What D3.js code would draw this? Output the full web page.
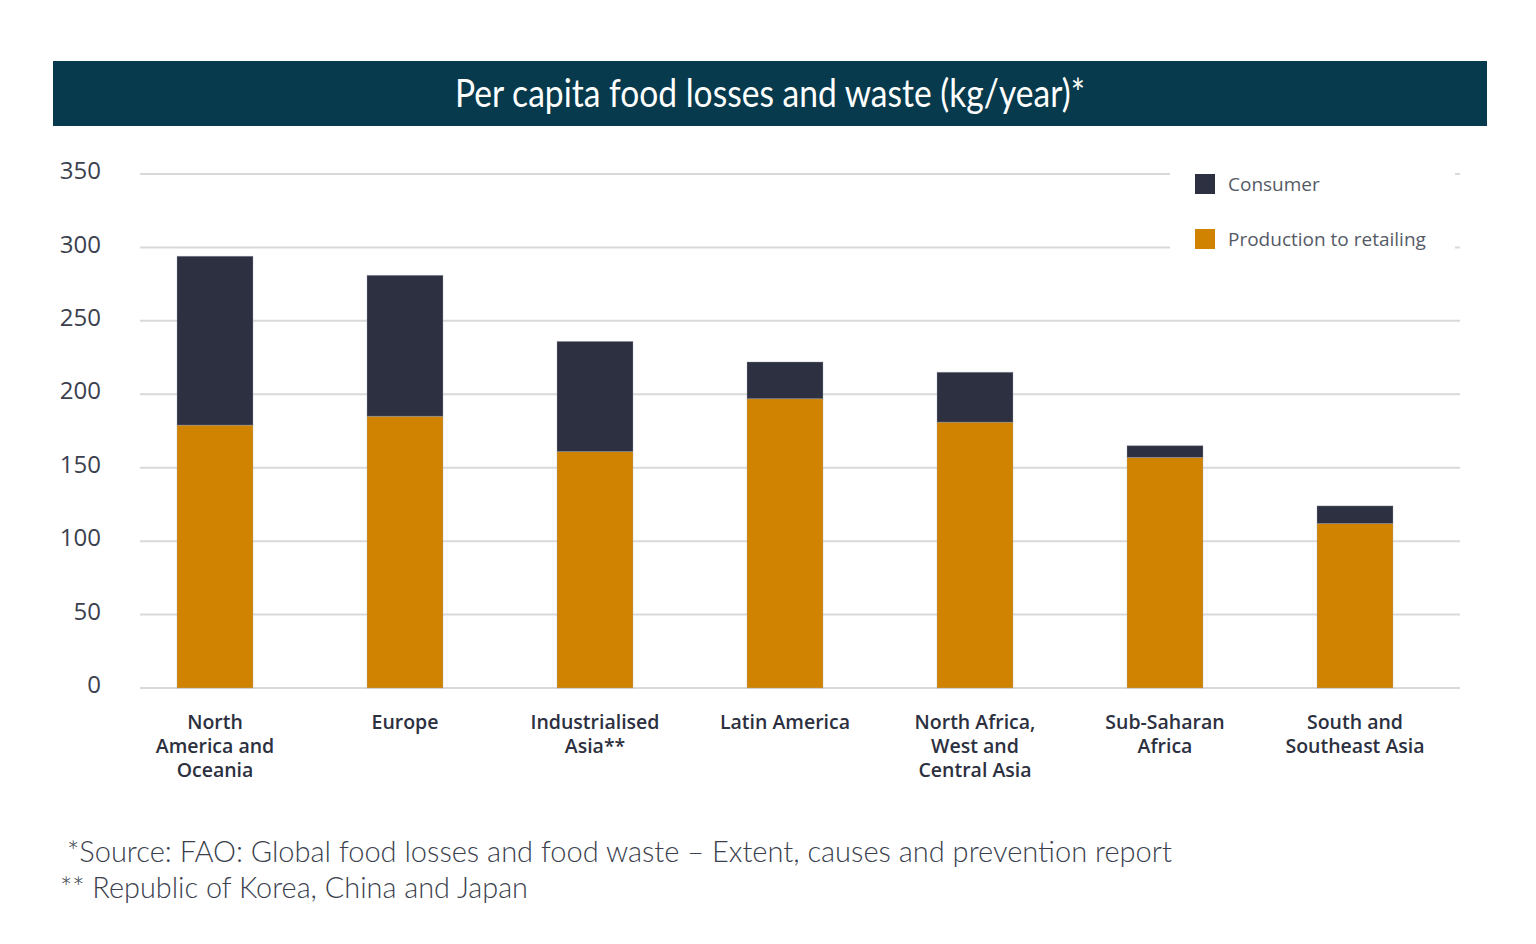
<!DOCTYPE html>
<html>
<head>
<meta charset="utf-8">
<script src="https://cdn.jsdelivr.net/npm/d3@7"></script>
<style>
  html, body { margin: 0; padding: 0; background: #ffffff; }
  svg { display: block; }
</style>
</head>
<body>
<svg id="chart" width="1536" height="944"></svg>
<script>
// ---- Data ----
const categories = [
  "North\nAmerica and\nOceania",
  "Europe",
  "Industrialised\nAsia**",
  "Latin America",
  "North Africa,\nWest and\nCentral Asia",
  "Sub-Saharan\nAfrica",
  "South and\nSoutheast Asia"
];
const productionToRetailing = [179, 185, 161, 197, 181, 157, 112];
const consumer = [115, 96, 75, 25, 34, 8, 12];
const yTicks = [0, 50, 100, 150, 200, 250, 300, 350];
const seriesNames = ["Consumer", "Production to retailing"];
const titleText = "Per capita food losses and waste (kg/year)*";
const footnotes = [
  "*Source: FAO: Global food losses and food waste – Extent, causes and prevention report",
  "** Republic of Korea, China and Japan"
];

// ---- Styles ----
const colConsumer = "#2c3040";
const colProduction = "#d08300";
const colGrid = "#d9d9d9";
const colText = "#2c3040";

const svg = d3.select("#chart");

// Scales
const x = d3.scaleBand().domain(categories).range([120, 1450]).paddingInner(0.6).paddingOuter(0.3);
const y = d3.scaleLinear().domain([0, 350]).range([688, 174]);

// Title banner
svg.append("rect").attr("x", 53).attr("y", 61).attr("width", 1434).attr("height", 65).attr("fill", "#063a4c");
svg.append("text")
  .attr("x", 770).attr("y", 107)
  .attr("text-anchor", "middle")
  .attr("font-family", "Lato, 'Open Sans', sans-serif")
  .attr("font-size", 38)
  .attr("fill", "#ffffff")
  .attr("textLength", 630)
  .attr("lengthAdjust", "spacingAndGlyphs")
  .text(titleText);

// Gridlines
svg.append("g").selectAll("line").data(yTicks).join("line")
  .attr("x1", 140).attr("x2", 1460)
  .attr("y1", d => y(d)).attr("y2", d => y(d))
  .attr("stroke", colGrid).attr("stroke-width", 2);

// Y axis labels via d3 axis
const yAxis = d3.axisLeft(y).tickValues(yTicks).tickSize(0).tickPadding(0);
const gy = svg.append("g").attr("transform", "translate(101,-3)").call(yAxis);
gy.select(".domain").remove();
gy.selectAll("text")
  .attr("font-family", "'Open Sans', sans-serif")
  .attr("font-size", 24)
  .attr("fill", "#3b3f4e");

// Stacked bars
const stackData = categories.map((c, i) => ({ cat: c, prod: productionToRetailing[i], cons: consumer[i] }));
const stack = d3.stack().keys(["prod", "cons"])(stackData);
const colors = { prod: colProduction, cons: colConsumer };
svg.append("g").selectAll("g").data(stack).join("g")
  .attr("fill", d => colors[d.key])
  .selectAll("rect").data(d => d).join("rect")
  .attr("x", d => x(d.data.cat))
  .attr("width", x.bandwidth())
  .attr("y", d => y(d[1]))
  .attr("height", d => y(d[0]) - y(d[1]))
  .attr("stroke", "rgba(160,165,180,0.35)")
  .attr("stroke-width", 1);

// Category labels
const xl = svg.append("g");
categories.forEach(c => {
  const lines = c.split("\n");
  const cx = x(c) + x.bandwidth() / 2;
  const t = xl.append("text")
    .attr("x", cx)
    .attr("y", 729)
    .attr("text-anchor", "middle")
    .attr("font-family", "'Open Sans', sans-serif")
    .attr("font-weight", 600)
    .attr("font-size", 19.5)
    .attr("fill", colText);
  lines.forEach((l, j) => {
    t.append("tspan").attr("x", cx).attr("dy", j === 0 ? 0 : 24).text(l);
  });
});

// Legend (white background over gridlines)
svg.append("rect").attr("x", 1170).attr("y", 160).attr("width", 285).attr("height", 100).attr("fill", "#ffffff");
const legendColors = [colConsumer, colProduction];
const lg = svg.append("g").selectAll("g").data(seriesNames).join("g")
  .attr("transform", (d, i) => `translate(1195,${174 + i * 55})`);
lg.append("rect").attr("width", 20).attr("height", 20).attr("fill", (d, i) => legendColors[i]);
lg.append("text").attr("x", 33).attr("y", 17)
  .attr("font-family", "'Open Sans', sans-serif")
  .attr("font-size", 19)
  .attr("fill", "#555a66")
  .text(d => d);

// Footnotes
svg.append("text").attr("x", 67).attr("y", 862)
  .attr("font-family", "Lato, sans-serif").attr("font-size", 29).attr("font-weight", 300)
  .attr("fill", "#3b3f4e")
  .attr("textLength", 1105).attr("lengthAdjust", "spacingAndGlyphs")
  .text(footnotes[0]);
svg.append("text").attr("x", 60).attr("y", 898)
  .attr("font-family", "Lato, sans-serif").attr("font-size", 29).attr("font-weight", 300)
  .attr("fill", "#3b3f4e")
  .attr("textLength", 468).attr("lengthAdjust", "spacingAndGlyphs")
  .text(footnotes[1]);
</script>
</body>
</html>
